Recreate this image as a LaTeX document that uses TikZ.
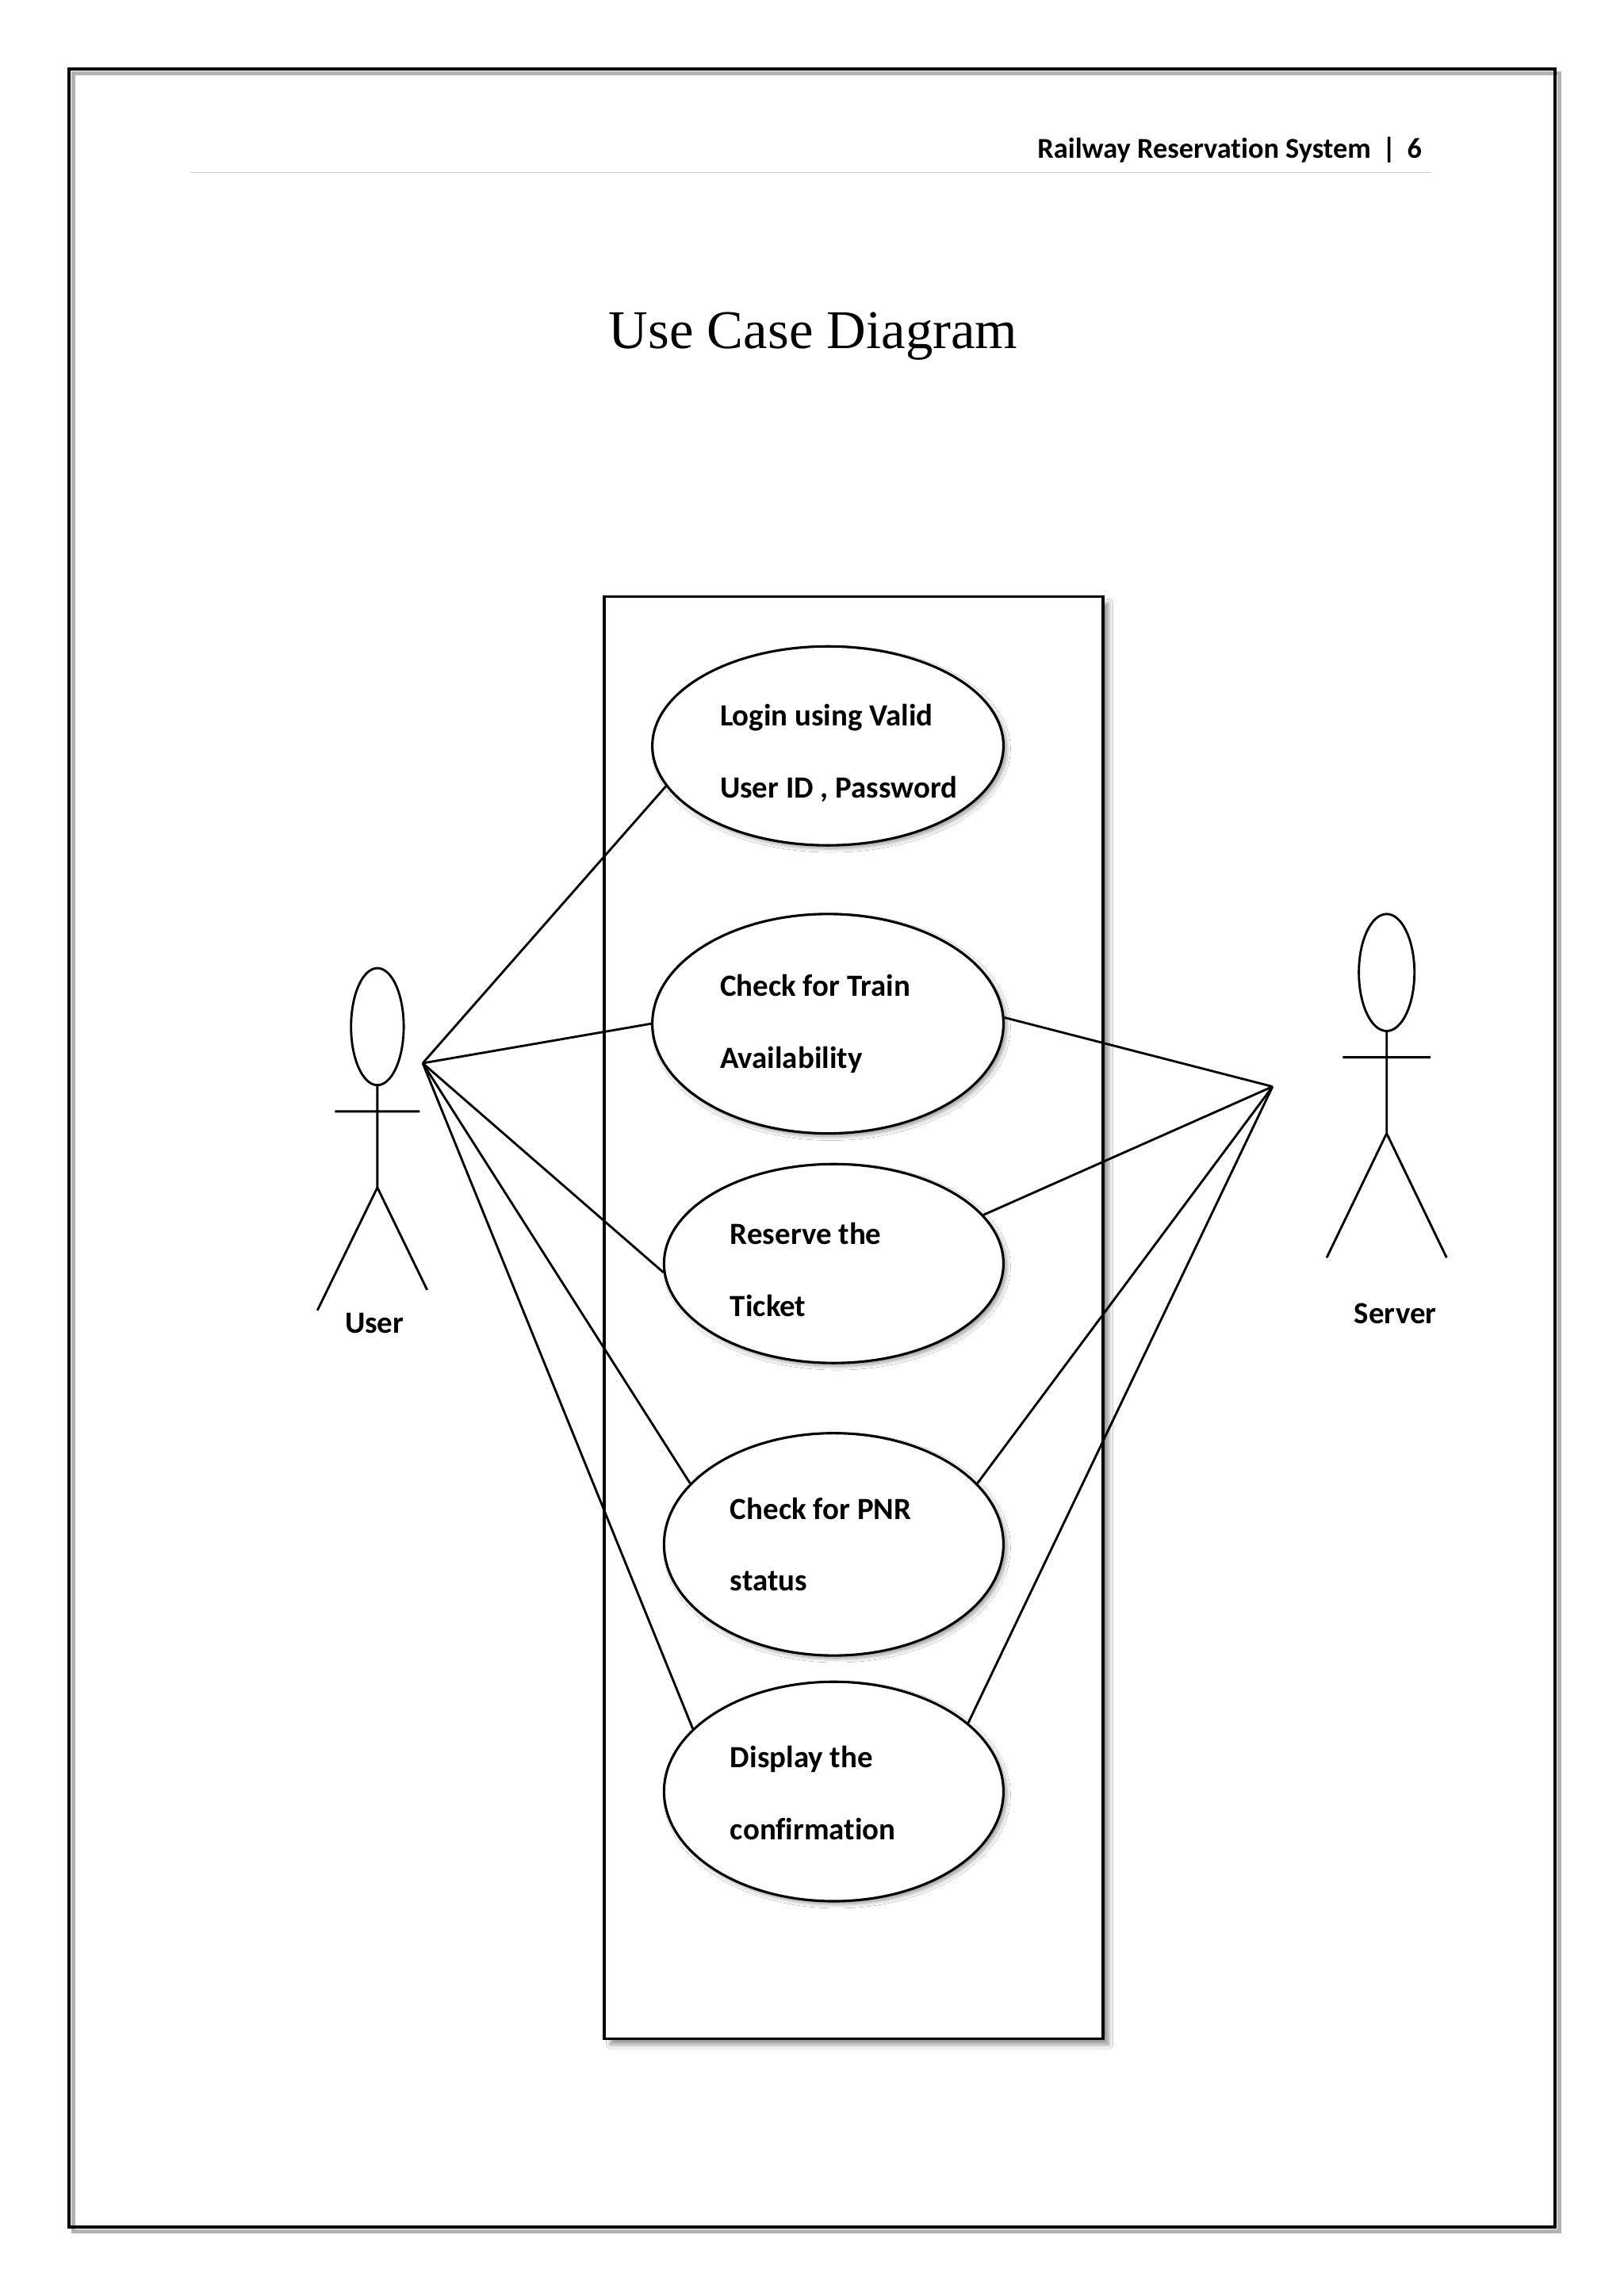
\documentclass[tikz,border=0pt]{standalone}
\usepackage{fontspec}
\setmainfont[RawFeature={-liga;-clig}]{Carlito}
\newfontfamily\titlefont{Liberation Serif}
\usetikzlibrary{shapes.geometric,shadows.blur,positioning}
\tikzset{
  usecase/.style={ellipse,draw,line width=1.2pt,fill=white,inner sep=0pt,
    blur shadow={shadow xshift=1.5pt,shadow yshift=-1.5pt,shadow blur steps=8}},
  casetext/.style={anchor=west,align=left,inner sep=0pt,font=\fontsize{15}{35}\selectfont\bfseries},
  actorlabel/.style={font=\fontsize{15}{17}\selectfont\bfseries},
  assoc/.style={line width=1.1pt},
  stick/.style={line width=1.1pt}
}
\begin{document}
\begin{tikzpicture}[x=0.025cm,y=-0.025cm]
  \useasboundingbox (0,0) rectangle (1110,1570);
  \fill[white] (0,0) rectangle (1110,1570);
  % page frame
  \draw[gray!60,line width=2pt] (50,50) rectangle (1066,1526);
  \draw[line width=1.6pt] (47,47) rectangle (1063,1523);
  % header
  \node[anchor=base east,font=\fontsize{14}{16}\selectfont\bfseries] (head) at (977,108) {Railway Reservation System \,|\, 6};
  \draw[gray!40,line width=0.6pt] (130,118) -- (978,118);
  \node[font=\titlefont\fontsize{26.5}{30}\selectfont] (title) at (556,230) {Use Case Diagram};
  % system boundary
  \draw[line width=1.3pt,fill=white,blur shadow={shadow xshift=3pt,shadow yshift=-3pt,shadow blur steps=10}] (413,408) rectangle (754,1394);
  % use cases
  \node[usecase,minimum width=6cm,minimum height=3.4cm] (login) at (566,510) {};
  \node[usecase,minimum width=6cm,minimum height=3.75cm] (avail) at (566,700) {};
  \node[usecase,minimum width=5.8cm,minimum height=3.4cm] (reserve) at (570,864) {};
  \node[usecase,minimum width=5.8cm,minimum height=3.8cm] (pnr) at (570,1056) {};
  \node[usecase,minimum width=5.8cm,minimum height=3.75cm] (confirm) at (570,1225) {};
  \node[casetext] (logintxt) at (492,515) {Login using Valid\\User ID , Password};
  \node[casetext] (availtxt) at (492,700) {Check for Train\\Availability};
  \node[casetext] (reservetxt) at (499,868) {Reserve the\\Ticket};
  \node[casetext] (pnrtxt) at (499,1056) {Check for PNR\\status};
  \node[casetext] (confirmtxt) at (499,1226) {Display the\\confirmation};
  % user actor
  \draw[stick] (258,702) ellipse (18 and 40);
  \draw[stick] (258,742) -- (258,812) (229,760) -- (287,760)
    (258,812) -- (217,896) (258,812) -- (292,882);
  \node[actorlabel] (userlbl) at (256,905) {User};
  \coordinate (user) at (289,727);
  % server actor
  \draw[stick] (948,665) ellipse (19 and 40);
  \draw[stick] (948,705) -- (948,775) (918,723) -- (978,723)
    (948,775) -- (907,860) (948,775) -- (989,860);
  \node[actorlabel] (serverlbl) at (954,898) {Server};
  \coordinate (server) at (870,743);
  % associations
  \draw[assoc] (user) -- (login.194);
  \draw[assoc] (user) -- (avail.180);
  \draw[assoc] (user) -- (reserve.183);
  \draw[assoc] (user) -- (pnr.157);
  \draw[assoc] (user) -- (confirm.156);
  \draw[assoc] (server) -- (avail.2);
  \draw[assoc] (server) -- (reserve.18);
  \draw[assoc] (server) -- (pnr.23);
  \draw[assoc] (server) -- (confirm.27);
\end{tikzpicture}
\end{document}
